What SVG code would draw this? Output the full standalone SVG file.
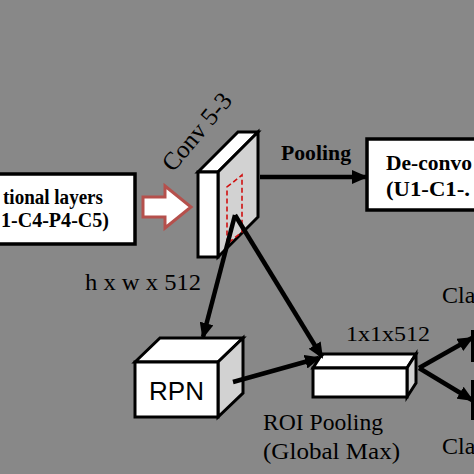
<svg xmlns="http://www.w3.org/2000/svg" width="474" height="474" viewBox="0 0 474 474">
<defs>
<style>
.bg{fill:#888888}
.box{fill:#ffffff;stroke:#000;stroke-width:3.5}
.face{fill:#ffffff;stroke:#000;stroke-width:3;stroke-linejoin:miter}
.side{fill:#d2d2d2;stroke:#000;stroke-width:3;stroke-linejoin:miter}
.t{font-family:"Liberation Serif","Times New Roman",serif;fill:#000}
.b{font-weight:bold}
.s{font-family:"Liberation Sans",Arial,sans-serif;fill:#000}
.ln{stroke:#000;stroke-width:4.5;fill:none;marker-end:url(#ah)}
</style>
<marker id="ah" markerUnits="userSpaceOnUse" markerWidth="16" markerHeight="14" refX="14" refY="7" orient="auto">
<path d="M0,0 L16,7 L0,14 z" fill="#000"/>
</marker>
</defs>
<rect class="bg" x="0" y="0" width="474" height="474"/>

<g id="conv-layers">
<rect class="box" x="-10" y="174" width="145" height="70"/>
<text class="t b" x="3" y="204" font-size="20" textLength="100" lengthAdjust="spacingAndGlyphs">tional layers</text>
<text class="t b" x="1" y="227" font-size="20" textLength="108" lengthAdjust="spacingAndGlyphs">1-C4-P4-C5)</text>
</g>

<g id="hollow-arrow">
<polygon points="143,197 165,197 165,186 191,207 165,228 165,217 143,217" fill="#ffffff" stroke="#b5504c" stroke-width="3"/>
</g>

<g id="conv53">
<polygon class="face" points="198,172 238,132 258,132 218,172"/>
<polygon class="side" points="218,172 258,132 258,217 218,257"/>
<rect class="face" x="198" y="172" width="20" height="85"/>
<polygon points="227,187 242,175 242,232 227,244" fill="none" stroke="#d01010" stroke-width="1.6" stroke-dasharray="5,3"/>
<text class="t" font-size="25" transform="translate(173,173) rotate(-50)">Conv 5-3</text>
</g>

<g id="deconv">
<rect class="box" x="367" y="139" width="120" height="71"/>
<text class="t b" x="386" y="170" font-size="21" textLength="86" lengthAdjust="spacingAndGlyphs">De-convo</text>
<text class="t b" x="386" y="196" font-size="21" textLength="84" lengthAdjust="spacingAndGlyphs">(U1-C1-.</text>
</g>

<g id="rpn">
<polygon class="face" points="135,362 160,338 243,338 218,362"/>
<polygon class="side" points="218,362 243,338 243,393 218,417"/>
<rect class="face" x="135" y="362" width="83" height="55"/>
<text class="s" x="176.5" y="400" font-size="26" text-anchor="middle">RPN</text>
</g>

<g id="roi">
<polygon class="face" points="313,368 322,354 416,354 407,368"/>
<polygon class="side" points="407,368 416,354 416,383 407,397"/>
<rect class="face" x="313" y="368" width="94" height="29"/>
<text class="t" x="346" y="341" font-size="22" textLength="84" lengthAdjust="spacingAndGlyphs">1x1x512</text>
<text class="t" x="263" y="430" font-size="23" textLength="120" lengthAdjust="spacingAndGlyphs">ROI Pooling</text>
<text class="t" x="263" y="459" font-size="23" textLength="137" lengthAdjust="spacingAndGlyphs">(Global Max)</text>
</g>

<g id="cls-top">
<rect x="471" y="330" width="5" height="32" fill="#000"/>
<text class="t" x="442" y="303" font-size="24">Cla</text>
</g>
<g id="cls-bottom">
<rect x="471" y="380" width="5" height="40" fill="#000"/>
<text class="t" x="442" y="454" font-size="24">Cla</text>
</g>

<text class="t" x="85" y="290" font-size="24" textLength="116" lengthAdjust="spacingAndGlyphs">h x w x 512</text>
<text class="t b" x="281" y="160" font-size="21" textLength="70" lengthAdjust="spacingAndGlyphs">Pooling</text>

<g id="connectors">
<line class="ln" x1="260" y1="177" x2="366" y2="177"/>
<line class="ln" x1="235" y1="215" x2="203" y2="337"/>
<line class="ln" x1="235" y1="215" x2="322" y2="357"/>
<line class="ln" x1="233" y1="382" x2="319" y2="358"/>
<line class="ln" x1="419" y1="368" x2="472" y2="338"/>
<line class="ln" x1="419" y1="368" x2="472" y2="400"/>
</g>
</svg>
